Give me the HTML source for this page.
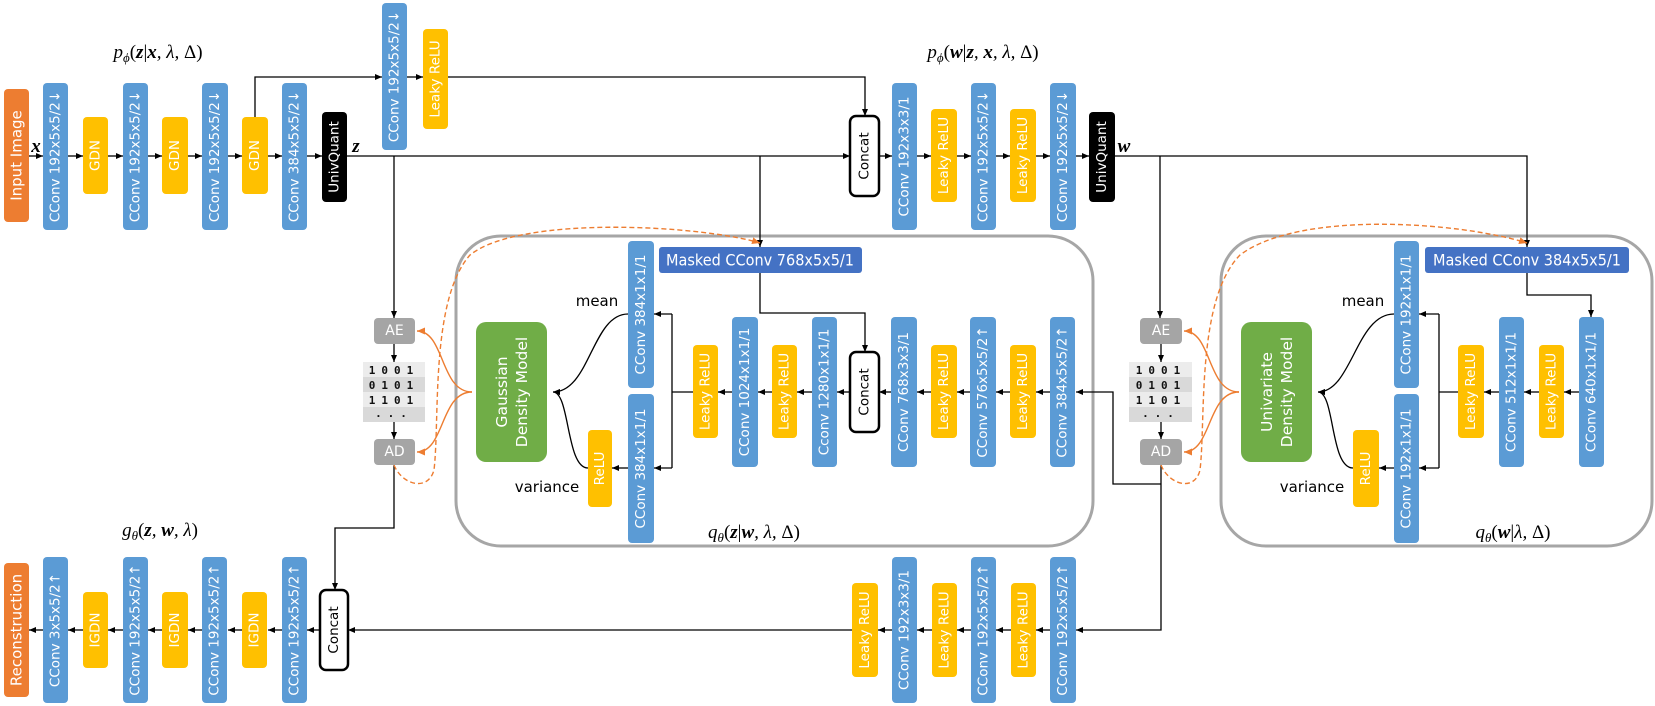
<!DOCTYPE html>
<html><head><meta charset="utf-8"><style>
html,body{margin:0;padding:0;background:#fff}
svg{display:block}
.bt{font-family:"DejaVu Sans","Liberation Sans",sans-serif;font-size:13.5px;fill:#fff}
.m{font-family:"Liberation Serif",serif;font-style:italic;font-size:19px;fill:#000}
.lb{font-family:"DejaVu Sans","Liberation Sans",sans-serif;font-size:15px;fill:#000}
.mx{font-family:"DejaVu Sans Mono","Liberation Mono",monospace;font-weight:bold;font-size:11px;fill:#111}
</style></head><body>
<svg width="1655" height="706" viewBox="0 0 1655 706" xmlns="http://www.w3.org/2000/svg">
<defs>
<marker id="a" markerWidth="8" markerHeight="8" refX="7" refY="4" orient="auto" markerUnits="userSpaceOnUse"><path d="M0,1 L7,4 L0,7 z" fill="#000"/></marker>
<marker id="o" markerWidth="9" markerHeight="9" refX="8" refY="4.5" orient="auto" markerUnits="userSpaceOnUse"><path d="M0,1 L8,4.5 L0,8 z" fill="#ed7d31"/></marker>
</defs>

<rect x="456" y="236" width="637" height="310" rx="45" fill="none" stroke="#a6a6a6" stroke-width="3"/>
<rect x="1221" y="236" width="431" height="310" rx="45" fill="none" stroke="#a6a6a6" stroke-width="3"/>

<g stroke="#000" stroke-width="1.3" fill="none" marker-end="url(#a)">
<line x1="29" y1="156" x2="43" y2="156"/><line x1="68" y1="156" x2="83" y2="156"/>
<line x1="108" y1="156" x2="123" y2="156"/><line x1="148" y1="156" x2="162" y2="156"/>
<line x1="188" y1="156" x2="202" y2="156"/><line x1="228" y1="156" x2="242" y2="156"/>
<line x1="268" y1="156" x2="282" y2="156"/><line x1="307" y1="156" x2="322" y2="156"/>
<path d="M255,117 V77 H382"/><line x1="407" y1="77" x2="423" y2="77"/>
<path d="M448,77 H865 V116"/>
<line x1="347" y1="156" x2="850" y2="156"/>
<line x1="394" y1="156" x2="394" y2="318"/>
<line x1="760" y1="156" x2="760" y2="247"/>
<line x1="879" y1="156" x2="892" y2="156"/><line x1="917" y1="156" x2="931" y2="156"/>
<line x1="957" y1="156" x2="971" y2="156"/><line x1="996" y1="156" x2="1010" y2="156"/>
<line x1="1036" y1="156" x2="1050" y2="156"/><line x1="1076" y1="156" x2="1089" y2="156"/>
<path d="M1115,156 H1527 V247"/>
<line x1="1160" y1="156" x2="1160" y2="318"/>
<line x1="1050" y1="392" x2="1036" y2="392"/><line x1="1010" y1="392" x2="996" y2="392"/>
<line x1="970" y1="392" x2="957" y2="392"/><line x1="931" y1="392" x2="917" y2="392"/>
<line x1="891" y1="392" x2="879" y2="392"/><line x1="850" y1="392" x2="837" y2="392"/>
<line x1="812" y1="392" x2="797" y2="392"/><line x1="772" y1="392" x2="758" y2="392"/>
<line x1="732" y1="392" x2="718" y2="392"/>
<path d="M672,314 H654"/><path d="M672,468 H654"/><path d="M628,468 H612"/>
<path d="M760,273 V313 H865 V352"/>
<path d="M1161,484 H1113 V392 H1076"/>
<path d="M628,314 C592,314 590,392 553,392"/>
<path d="M588,468 C566,468 570,392 553,392"/>
<line x1="394" y1="344" x2="394" y2="362"/><line x1="394" y1="422" x2="394" y2="439"/>
<path d="M394,465 V528 H335 V590"/>
<line x1="1579" y1="392" x2="1564" y2="392"/><line x1="1539" y1="392" x2="1524" y2="392"/>
<line x1="1499" y1="392" x2="1484" y2="392"/>
<path d="M1439,314 H1419"/><path d="M1439,468 H1419"/><path d="M1394,468 H1379"/>
<path d="M1527,273 V295 H1591 V317"/>
<path d="M1394,314 C1356,314 1352,392 1318,392"/>
<path d="M1353,468 C1330,468 1335,392 1318,392"/>
<line x1="1161" y1="344" x2="1161" y2="362"/><line x1="1161" y1="422" x2="1161" y2="439"/>
<path d="M1161,465 V630 H1076"/>
<line x1="1050" y1="630" x2="1036" y2="630"/><line x1="1011" y1="630" x2="996" y2="630"/>
<line x1="971" y1="630" x2="957" y2="630"/><line x1="932" y1="630" x2="917" y2="630"/>
<line x1="892" y1="630" x2="878" y2="630"/>
<line x1="852" y1="630" x2="348" y2="630"/>
<line x1="320" y1="630" x2="307" y2="630"/><line x1="282" y1="630" x2="268" y2="630"/>
<line x1="242" y1="630" x2="228" y2="630"/><line x1="202" y1="630" x2="188" y2="630"/>
<line x1="162" y1="630" x2="148" y2="630"/><line x1="123" y1="630" x2="108" y2="630"/>
<line x1="83" y1="630" x2="68" y2="630"/><line x1="43" y1="630" x2="29" y2="630"/>
</g>
<g stroke="#000" stroke-width="1.3"><line x1="693" y1="392" x2="672" y2="392"/><line x1="672" y1="314" x2="672" y2="468"/>
<line x1="1458" y1="392" x2="1439" y2="392"/><line x1="1439" y1="314" x2="1439" y2="468"/></g>

<g stroke="#ed7d31" stroke-width="1.4" fill="none">
<path d="M472,392 C440,392 445,331 417,331" marker-end="url(#o)"/>
<path d="M472,392 C440,392 445,452 417,452" marker-end="url(#o)"/>
<path d="M1239,392 C1207,392 1212,331 1184,331" marker-end="url(#o)"/>
<path d="M1239,392 C1207,392 1212,452 1184,452" marker-end="url(#o)"/>
<path d="M394,465 C402,485 428,492 434,470 C440,420 430,300 470,255 C520,215 700,225 760,243" stroke-dasharray="5,3" marker-end="url(#o)"/>
<path d="M1161,465 C1169,485 1195,492 1200,470 C1206,420 1196,300 1240,255 C1300,210 1460,222 1527,243" stroke-dasharray="5,3" marker-end="url(#o)"/>
</g>

<g>
<rect x="4" y="89" width="25" height="133" rx="4" fill="#ed7d31"/>
<rect x="43" y="83" width="25" height="147" rx="4" fill="#5b9bd5"/>
<rect x="83" y="117" width="25" height="77" rx="4" fill="#ffc000"/>
<rect x="123" y="83" width="25" height="147" rx="4" fill="#5b9bd5"/>
<rect x="162" y="117" width="26" height="77" rx="4" fill="#ffc000"/>
<rect x="202" y="83" width="26" height="147" rx="4" fill="#5b9bd5"/>
<rect x="242" y="117" width="26" height="77" rx="4" fill="#ffc000"/>
<rect x="282" y="83" width="25" height="147" rx="4" fill="#5b9bd5"/>
<rect x="322" y="112" width="25" height="90" rx="4" fill="#000"/>
<rect x="382" y="3" width="25" height="147" rx="4" fill="#5b9bd5"/>
<rect x="423" y="29" width="25" height="100" rx="4" fill="#ffc000"/>
<rect x="850" y="116" width="29" height="80" rx="6" fill="#fff" stroke="#000" stroke-width="2.5"/>
<rect x="892" y="83" width="25" height="147" rx="4" fill="#5b9bd5"/>
<rect x="931" y="109" width="26" height="93" rx="4" fill="#ffc000"/>
<rect x="971" y="83" width="25" height="147" rx="4" fill="#5b9bd5"/>
<rect x="1010" y="109" width="26" height="93" rx="4" fill="#ffc000"/>
<rect x="1050" y="83" width="26" height="147" rx="4" fill="#5b9bd5"/>
<rect x="1089" y="112" width="26" height="90" rx="4" fill="#000"/>

<rect x="659" y="247" width="203" height="26" rx="3" fill="#4472c4"/>
<rect x="628" y="241" width="26" height="147" rx="4" fill="#5b9bd5"/>
<rect x="628" y="394" width="26" height="149" rx="4" fill="#5b9bd5"/>
<rect x="588" y="430" width="24" height="77" rx="4" fill="#ffc000"/>
<rect x="476" y="322" width="71" height="140" rx="10" fill="#70ad47"/>
<rect x="693" y="345" width="25" height="93" rx="4" fill="#ffc000"/>
<rect x="732" y="317" width="26" height="150" rx="4" fill="#5b9bd5"/>
<rect x="772" y="345" width="25" height="93" rx="4" fill="#ffc000"/>
<rect x="812" y="317" width="25" height="150" rx="4" fill="#5b9bd5"/>
<rect x="850" y="352" width="29" height="80" rx="6" fill="#fff" stroke="#000" stroke-width="2.5"/>
<rect x="891" y="317" width="26" height="150" rx="4" fill="#5b9bd5"/>
<rect x="931" y="345" width="26" height="93" rx="4" fill="#ffc000"/>
<rect x="970" y="317" width="26" height="150" rx="4" fill="#5b9bd5"/>
<rect x="1010" y="345" width="26" height="93" rx="4" fill="#ffc000"/>
<rect x="1050" y="317" width="25" height="150" rx="4" fill="#5b9bd5"/>

<rect x="374" y="318" width="41" height="26" rx="4" fill="#a5a5a5"/>
<rect x="374" y="439" width="41" height="26" rx="4" fill="#a5a5a5"/>
<rect x="363" y="362" width="62" height="15" fill="#ececec"/><rect x="363" y="377" width="62" height="15" fill="#d9d9d9"/>
<rect x="363" y="392" width="62" height="15" fill="#ececec"/><rect x="363" y="407" width="62" height="15" fill="#d9d9d9"/>
<rect x="1140" y="318" width="42" height="26" rx="4" fill="#a5a5a5"/>
<rect x="1140" y="439" width="42" height="26" rx="4" fill="#a5a5a5"/>
<rect x="1129" y="362" width="63" height="15" fill="#ececec"/><rect x="1129" y="377" width="63" height="15" fill="#d9d9d9"/>
<rect x="1129" y="392" width="63" height="15" fill="#ececec"/><rect x="1129" y="407" width="63" height="15" fill="#d9d9d9"/>

<rect x="1425" y="247" width="204" height="26" rx="3" fill="#4472c4"/>
<rect x="1394" y="241" width="25" height="147" rx="4" fill="#5b9bd5"/>
<rect x="1394" y="394" width="25" height="149" rx="4" fill="#5b9bd5"/>
<rect x="1353" y="430" width="26" height="77" rx="4" fill="#ffc000"/>
<rect x="1241" y="322" width="71" height="140" rx="10" fill="#70ad47"/>
<rect x="1458" y="345" width="26" height="93" rx="4" fill="#ffc000"/>
<rect x="1499" y="317" width="25" height="150" rx="4" fill="#5b9bd5"/>
<rect x="1539" y="345" width="25" height="93" rx="4" fill="#ffc000"/>
<rect x="1579" y="317" width="25" height="150" rx="4" fill="#5b9bd5"/>

<rect x="4" y="563" width="25" height="134" rx="4" fill="#ed7d31"/>
<rect x="43" y="557" width="25" height="146" rx="4" fill="#5b9bd5"/>
<rect x="83" y="592" width="25" height="76" rx="4" fill="#ffc000"/>
<rect x="123" y="557" width="25" height="146" rx="4" fill="#5b9bd5"/>
<rect x="162" y="592" width="26" height="76" rx="4" fill="#ffc000"/>
<rect x="202" y="557" width="25" height="146" rx="4" fill="#5b9bd5"/>
<rect x="242" y="592" width="25" height="76" rx="4" fill="#ffc000"/>
<rect x="282" y="557" width="25" height="146" rx="4" fill="#5b9bd5"/>
<rect x="320" y="590" width="28" height="80" rx="6" fill="#fff" stroke="#000" stroke-width="2.5"/>
<rect x="852" y="583" width="26" height="94" rx="4" fill="#ffc000"/>
<rect x="892" y="557" width="25" height="146" rx="4" fill="#5b9bd5"/>
<rect x="932" y="583" width="25" height="94" rx="4" fill="#ffc000"/>
<rect x="971" y="557" width="25" height="146" rx="4" fill="#5b9bd5"/>
<rect x="1011" y="583" width="25" height="94" rx="4" fill="#ffc000"/>
<rect x="1050" y="557" width="26" height="146" rx="4" fill="#5b9bd5"/>
</g>

<g class="bt" text-anchor="middle" dominant-baseline="central">
<text transform="translate(16.5,155.5) rotate(-90)" font-size="15">Input Image</text>
<text transform="translate(55.5,156.5) rotate(-90)">CConv 192x5x5/2↓</text>
<text transform="translate(95.5,155.5) rotate(-90)">GDN</text>
<text transform="translate(135.5,156.5) rotate(-90)">CConv 192x5x5/2↓</text>
<text transform="translate(175,155.5) rotate(-90)">GDN</text>
<text transform="translate(215,156.5) rotate(-90)">CConv 192x5x5/2↓</text>
<text transform="translate(255,155.5) rotate(-90)">GDN</text>
<text transform="translate(294.5,156.5) rotate(-90)">CConv 384x5x5/2↓</text>
<text transform="translate(334.5,157) rotate(-90)">UnivQuant</text>
<text transform="translate(394.5,76.5) rotate(-90)">CConv 192x5x5/2↓</text>
<text transform="translate(435.5,79) rotate(-90)">Leaky ReLU</text>
<text transform="translate(864.5,156) rotate(-90)" fill="#000">Concat</text>
<text transform="translate(904.5,156.5) rotate(-90)">CConv 192x3x3/1</text>
<text transform="translate(944,155.5) rotate(-90)">Leaky ReLU</text>
<text transform="translate(983.5,156.5) rotate(-90)">CConv 192x5x5/2↓</text>
<text transform="translate(1023,155.5) rotate(-90)">Leaky ReLU</text>
<text transform="translate(1063,156.5) rotate(-90)">CConv 192x5x5/2↓</text>
<text transform="translate(1102,157) rotate(-90)">UnivQuant</text>

<text transform="translate(641,314.5) rotate(-90)">CConv 384x1x1/1</text>
<text transform="translate(641,468.5) rotate(-90)">CConv 384x1x1/1</text>
<text transform="translate(600,468.5) rotate(-90)">ReLU</text>
<text transform="translate(502,392) rotate(-90)" font-size="15.5">Gaussian</text>
<text transform="translate(522,392) rotate(-90)" font-size="15.5">Density Model</text>
<text transform="translate(705.5,391.5) rotate(-90)">Leaky ReLU</text>
<text transform="translate(745,392) rotate(-90)">CConv 1024x1x1/1</text>
<text transform="translate(784.5,391.5) rotate(-90)">Leaky ReLU</text>
<text transform="translate(824.5,392) rotate(-90)">Cconv 1280x1x1/1</text>
<text transform="translate(864.5,392) rotate(-90)" fill="#000">Concat</text>
<text transform="translate(904,392) rotate(-90)">CConv 768x3x3/1</text>
<text transform="translate(944,391.5) rotate(-90)">Leaky ReLU</text>
<text transform="translate(983,392) rotate(-90)">CConv 576x5x5/2↑</text>
<text transform="translate(1023,391.5) rotate(-90)">Leaky ReLU</text>
<text transform="translate(1062.5,392) rotate(-90)">CConv 384x5x5/2↑</text>

<text transform="translate(1406.5,314.5) rotate(-90)">CConv 192x1x1/1</text>
<text transform="translate(1406.5,468.5) rotate(-90)">CConv 192x1x1/1</text>
<text transform="translate(1366,468.5) rotate(-90)">ReLU</text>
<text transform="translate(1267,392) rotate(-90)" font-size="15.5">Univariate</text>
<text transform="translate(1287,392) rotate(-90)" font-size="15.5">Density Model</text>
<text transform="translate(1471,391.5) rotate(-90)">Leaky ReLU</text>
<text transform="translate(1511.5,392) rotate(-90)">CConv 512x1x1/1</text>
<text transform="translate(1551.5,391.5) rotate(-90)">Leaky ReLU</text>
<text transform="translate(1591.5,392) rotate(-90)">CConv 640x1x1/1</text>

<text transform="translate(16.5,630) rotate(-90)" font-size="15">Reconstruction</text>
<text transform="translate(55.5,630) rotate(-90)">CConv 3x5x5/2↑</text>
<text transform="translate(95.5,630) rotate(-90)">IGDN</text>
<text transform="translate(135.5,630) rotate(-90)">CConv 192x5x5/2↑</text>
<text transform="translate(175,630) rotate(-90)">IGDN</text>
<text transform="translate(214.5,630) rotate(-90)">CConv 192x5x5/2↑</text>
<text transform="translate(254.5,630) rotate(-90)">IGDN</text>
<text transform="translate(294.5,630) rotate(-90)">CConv 192x5x5/2↑</text>
<text transform="translate(334,630) rotate(-90)" fill="#000">Concat</text>
<text transform="translate(865,630) rotate(-90)">Leaky ReLU</text>
<text transform="translate(904.5,630) rotate(-90)">CConv 192x3x3/1</text>
<text transform="translate(944.5,630) rotate(-90)">Leaky ReLU</text>
<text transform="translate(983.5,630) rotate(-90)">CConv 192x5x5/2↑</text>
<text transform="translate(1023.5,630) rotate(-90)">Leaky ReLU</text>
<text transform="translate(1063,630) rotate(-90)">CConv 192x5x5/2↑</text>

<text x="760" y="260" font-size="16" textLength="188" lengthAdjust="spacingAndGlyphs">Masked CConv 768x5x5/1</text>
<text x="1527" y="260" font-size="16" textLength="188" lengthAdjust="spacingAndGlyphs">Masked CConv 384x5x5/1</text>
<text x="394.5" y="331" font-size="14">AE</text>
<text x="394.5" y="452" font-size="14">AD</text>
<text x="1161" y="331" font-size="14">AE</text>
<text x="1161" y="452" font-size="14">AD</text>
</g>

<g class="mx" text-anchor="middle">
<text x="394" y="374" letter-spacing="6">1001</text>
<text x="394" y="389" letter-spacing="6">0101</text>
<text x="394" y="404" letter-spacing="6">1101</text>
<text x="394" y="417" letter-spacing="6">...</text>
<text x="1161" y="374" letter-spacing="6">1001</text>
<text x="1161" y="389" letter-spacing="6">0101</text>
<text x="1161" y="404" letter-spacing="6">1101</text>
<text x="1161" y="417" letter-spacing="6">...</text>
</g>

<g class="lb" text-anchor="middle">
<text x="597" y="306">mean</text>
<text x="547" y="492">variance</text>
<text x="1363" y="306">mean</text>
<text x="1312" y="492">variance</text>
</g>

<g class="m" text-anchor="middle">
<text x="158" y="58">p<tspan font-size="13" dy="4">ϕ</tspan><tspan dy="-4" font-style="normal">(</tspan><tspan font-weight="bold">z</tspan><tspan font-style="normal">|</tspan><tspan font-weight="bold">x</tspan>, λ, <tspan font-style="normal">Δ)</tspan></text>
<text x="983" y="58">p<tspan font-size="13" dy="4">ϕ</tspan><tspan dy="-4" font-style="normal">(</tspan><tspan font-weight="bold">w</tspan><tspan font-style="normal">|</tspan><tspan font-weight="bold">z</tspan>, <tspan font-weight="bold">x</tspan>, λ, <tspan font-style="normal">Δ)</tspan></text>
<text x="160" y="536">g<tspan font-size="13" dy="4">θ</tspan><tspan dy="-4" font-style="normal">(</tspan><tspan font-weight="bold">z</tspan>, <tspan font-weight="bold">w</tspan>, λ<tspan font-style="normal">)</tspan></text>
<text x="754" y="538">q<tspan font-size="13" dy="4">θ</tspan><tspan dy="-4" font-style="normal">(</tspan><tspan font-weight="bold">z</tspan><tspan font-style="normal">|</tspan><tspan font-weight="bold">w</tspan>, λ, <tspan font-style="normal">Δ)</tspan></text>
<text x="1513" y="538">q<tspan font-size="13" dy="4">θ</tspan><tspan dy="-4" font-style="normal">(</tspan><tspan font-weight="bold">w</tspan><tspan font-style="normal">|</tspan>λ, <tspan font-style="normal">Δ)</tspan></text>
<text x="36" y="152" font-weight="bold">x</text>
<text x="356" y="152" font-weight="bold">z</text>
<text x="1124" y="152" font-weight="bold">w</text>
</g>
</svg>
</body></html>
